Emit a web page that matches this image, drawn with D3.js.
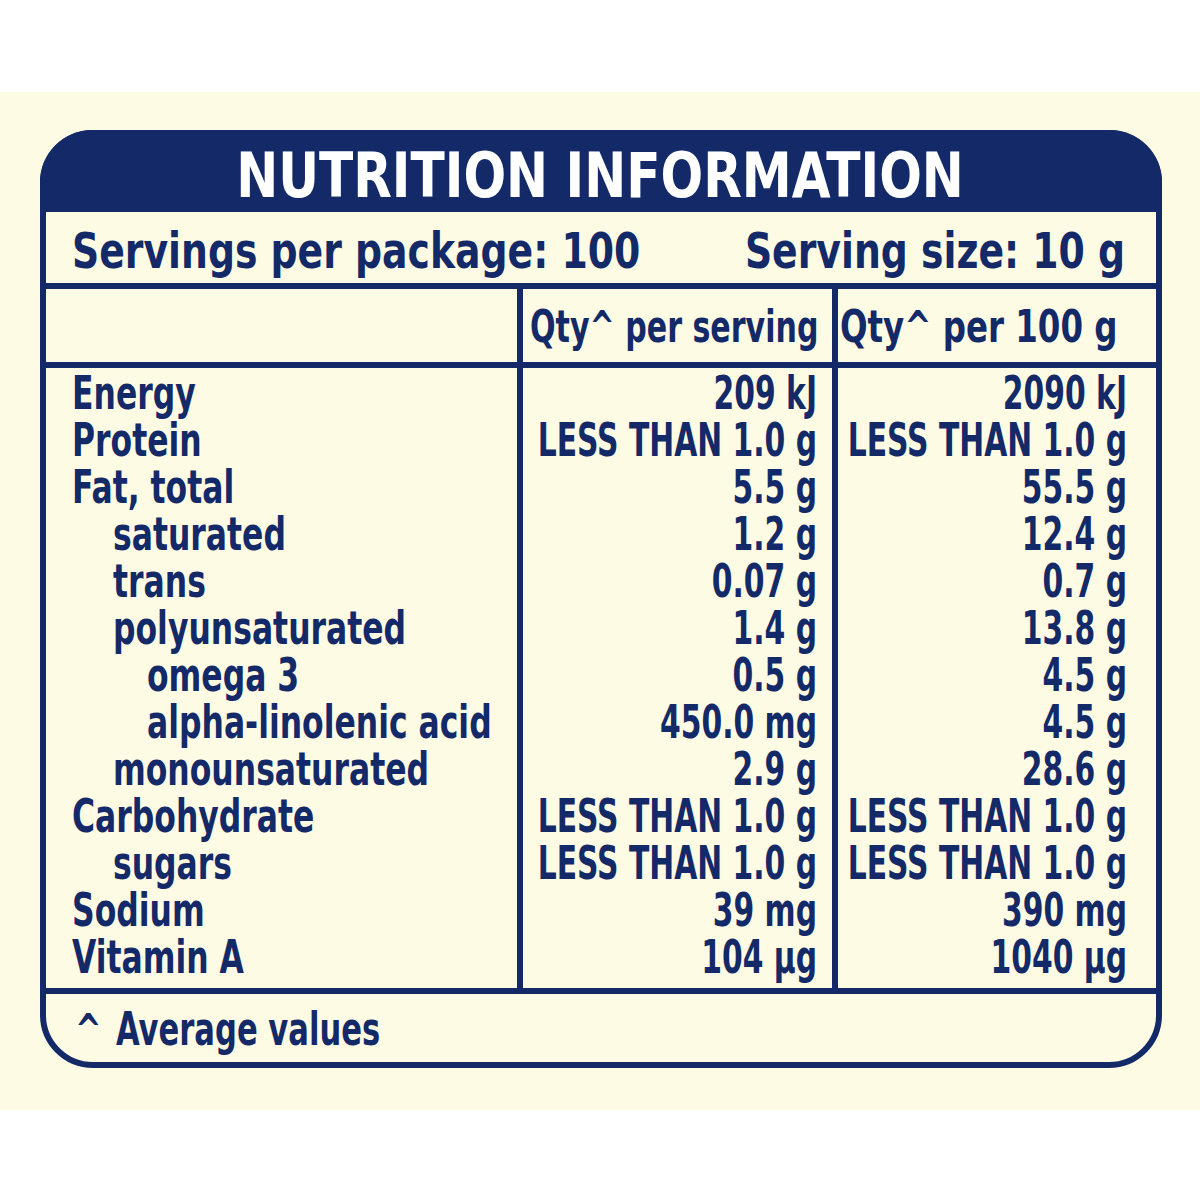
<!DOCTYPE html>
<html><head><meta charset="utf-8">
<script src="https://cdn.jsdelivr.net/npm/d3@7"></script>
<style>body{margin:0;background:#fff}</style>
</head><body>
<svg width="1200" height="1200"></svg>
<script>
const nutrients = ["Energy","Protein","Fat, total","saturated","trans","polyunsaturated","omega 3","alpha-linolenic acid","monounsaturated","Carbohydrate","sugars","Sodium","Vitamin A"]
const levels = [0,0,0,1,1,1,2,2,1,0,1,0,0]
const perServing = ["209 kJ","LESS THAN 1.0 g","5.5 g","1.2 g","0.07 g","1.4 g","0.5 g","450.0 mg","2.9 g","LESS THAN 1.0 g","LESS THAN 1.0 g","39 mg","104 µg"]
const per100g = ["2090 kJ","LESS THAN 1.0 g","55.5 g","12.4 g","0.7 g","13.8 g","4.5 g","4.5 g","28.6 g","LESS THAN 1.0 g","LESS THAN 1.0 g","390 mg","1040 µg"]
const headers = ["Qty^ per serving","Qty^ per 100 g"]

const navy = "#142a68", cream = "#fdfbe4"
const font = "'DejaVu Sans Condensed','DejaVu Sans',sans-serif"
const svg = d3.select("svg")

svg.append("rect").attr("x",0).attr("y",92).attr("width",1200).attr("height",1018).attr("fill",cream)

// panel
svg.append("rect").attr("x",43).attr("y",133).attr("width",1116).attr("height",932)
  .attr("rx",50).attr("fill",cream).attr("stroke",navy).attr("stroke-width",6)
// header band
const clip = svg.append("clipPath").attr("id","c")
clip.append("rect").attr("x",40).attr("y",130).attr("width",1122).attr("height",82)
svg.append("rect").attr("x",40).attr("y",130).attr("width",1122).attr("height",200)
  .attr("rx",52).attr("fill",navy).attr("clip-path","url(#c)")

const line = (x1,y1,x2,y2,w) => svg.append("line").attr("x1",x1).attr("y1",y1).attr("x2",x2).attr("y2",y2)
  .attr("stroke",navy).attr("stroke-width",w)
line(43,286,1159,286,6)
line(43,365,1159,365,6)
line(43,991,1159,991,6)
line(520,286,520,991,6)
line(835,286,835,991,6)

// condensed bold text: draw at origin and squeeze horizontally
const text = (s,x,y,size,anchor,fill,k) => svg.append("text")
  .attr("transform",`translate(${x},${y}) scale(${k||0.74},1)`)
  .attr("font-family",font).attr("font-weight","bold")
  .attr("font-size",size).attr("text-anchor",anchor||"start").attr("fill",fill||navy).text(s)

text("NUTRITION INFORMATION",600,197,62,"middle","#fff",0.9)
text("Servings per package: 100",72,268,50,"start",navy,0.84)
text("Serving size: 10 g",1125,268,50,"end",navy,0.84)
text(headers[0],530,342,44,"start",navy,0.76)
text(headers[1],840,342,44,"start",navy,0.82)

const y = d3.scaleBand().domain(d3.range(nutrients.length)).range([373,984])
const indent = d3.scaleOrdinal().domain([0,1,2]).range([72,113,147])
nutrients.forEach((n,i) => {
  const by = y(i) + y.bandwidth()*0.77
  text(n,indent(levels[i]),by,46,"start",navy,0.76)
  text(perServing[i],817,by,46,"end",navy,0.72)
  text(per100g[i],1127,by,46,"end",navy,0.72)
})
text("^",75,1045,44,"start",navy,0.8)
text("Average values",116,1045,46,"start",navy,0.74)
</script>
</body></html>
